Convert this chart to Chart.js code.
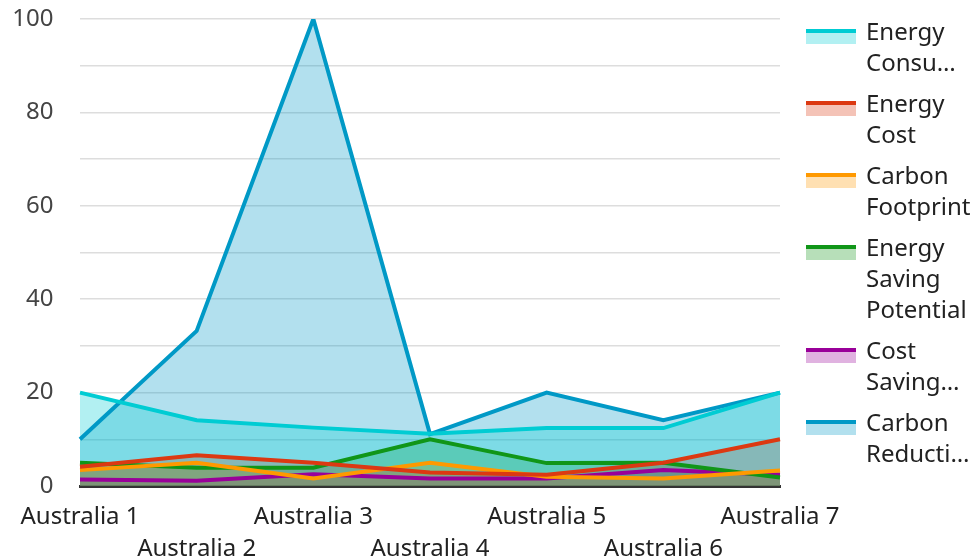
<!DOCTYPE html>
<html>
<head>
<meta charset="utf-8">
<script src="https://cdn.jsdelivr.net/npm/chart.js@4/dist/chart.umd.min.js"></script>
<style>
  body { margin: 0; background: #fff; font-family: "Noto Sans", sans-serif; }
  #wrap { position: relative; width: 978px; height: 560px; }
  #legend { position: absolute; left: 806px; top: 15px; width: 172px; }
  .item { display: flex; align-items: flex-start; margin-bottom: 10px; }
  .box { width: 50px; height: 11px; border-top: 4px solid; margin-top: 14px; flex: none; }
  .txt { margin-left: 10px; font-size: 24px; line-height: 31px; color: #222; white-space: nowrap; }
</style>
</head>
<body>
<div id="wrap">
  <canvas id="chart" width="978" height="560"></canvas>
  <div id="legend"></div>
</div>
<script>
// ======================
// Data
// ======================
const categories = ["Australia 1", "Australia 2", "Australia 3", "Australia 4", "Australia 5", "Australia 6", "Australia 7"];
const seriesNames = ["Energy Consumption", "Energy Cost", "Carbon Footprint", "Energy Saving Potential", "Cost Savings", "Carbon Reduction"];
const legendLines = [["Energy", "Consu…"], ["Energy", "Cost"], ["Carbon", "Footprint"], ["Energy", "Saving", "Potential"], ["Cost", "Saving…"], ["Carbon", "Reducti…"]];

const energyConsumption = [20, 14.1, 12.5, 11.2, 12.4, 12.4, 20];
const energyCost = [4.1, 6.6, 5.0, 2.9, 2.4, 5.0, 10];
const carbonFootprint = [3.4, 5.0, 1.6, 5.0, 2.0, 1.6, 3.3];
const energySaving = [5.0, 3.9, 3.9, 10, 4.9, 5.0, 1.8];
const costSavings = [1.4, 1.1, 2.5, 1.6, 1.6, 3.4, 2.4];
const carbonReduction = [10, 33.2, 100, 11.1, 20, 14.1, 20];

const lineColors = ["#00ccd3", "#dc3912", "#ff9900", "#109618", "#990099", "#0099c6"];
const fillColors = ["rgba(0,204,211,0.3)", "rgba(220,57,18,0.3)", "rgba(255,153,0,0.3)", "rgba(16,150,24,0.3)", "rgba(153,0,153,0.3)", "rgba(0,153,198,0.3)"];

const seriesData = [energyConsumption, energyCost, carbonFootprint, energySaving, costSavings, carbonReduction];

// ======================
// Chart
// ======================
const datasets = seriesData.map((d, i) => ({
  label: seriesNames[i],
  data: d,
  borderColor: lineColors[i],
  backgroundColor: fillColors[i],
  borderWidth: 4,
  fill: "origin",
  pointRadius: 0,
  tension: 0
}));

new Chart(document.getElementById("chart"), {
  type: "line",
  data: { labels: categories, datasets: datasets },
  options: {
    responsive: false,
    animation: false,
    layout: { padding: { top: 0, right: 198, bottom: 0, left: 0 } },
    plugins: {
      legend: { display: false },
      tooltip: { enabled: false },
      filler: { drawTime: "beforeDatasetsDraw" }
    },
    scales: {
      x: {
        afterFit: function (scale) { scale.height = 74; },
        grid: { display: false, drawTicks: false },
        border: { display: true, color: "#333", width: 3 },
        ticks: {
          autoSkip: false,
          maxRotation: 0,
          padding: 16,
          color: "#222",
          font: { family: "Noto Sans", size: 24, lineHeight: 1.3 },
          callback: function (value, index) {
            const lbl = categories[index];
            return index % 2 === 0 ? [lbl, ""] : ["", lbl];
          }
        }
      },
      y: {
        min: 0,
        max: 100,
        afterFit: function (scale) { scale.width = 80; },
        grid: { color: "#dddddd", lineWidth: 1.5, drawTicks: true, tickLength: 22, tickColor: "rgba(0,0,0,0)" },
        border: { display: false },
        ticks: {
          stepSize: 10,
          padding: 4.6,
          color: "#444",
          font: { family: "Noto Sans", size: 24 },
          callback: function (value) { return value % 20 === 0 ? value : ""; }
        }
      }
    }
  }
});

// ======================
// Legend (HTML)
// ======================
const legendEl = document.getElementById("legend");
legendLines.forEach((lines, i) => {
  const item = document.createElement("div");
  item.className = "item";
  item.innerHTML = `<div class="box" style="border-color:${lineColors[i]};background:${fillColors[i]}"></div>
    <div class="txt">${lines.join("<br>")}</div>`;
  legendEl.appendChild(item);
});
</script>
</body>
</html>
